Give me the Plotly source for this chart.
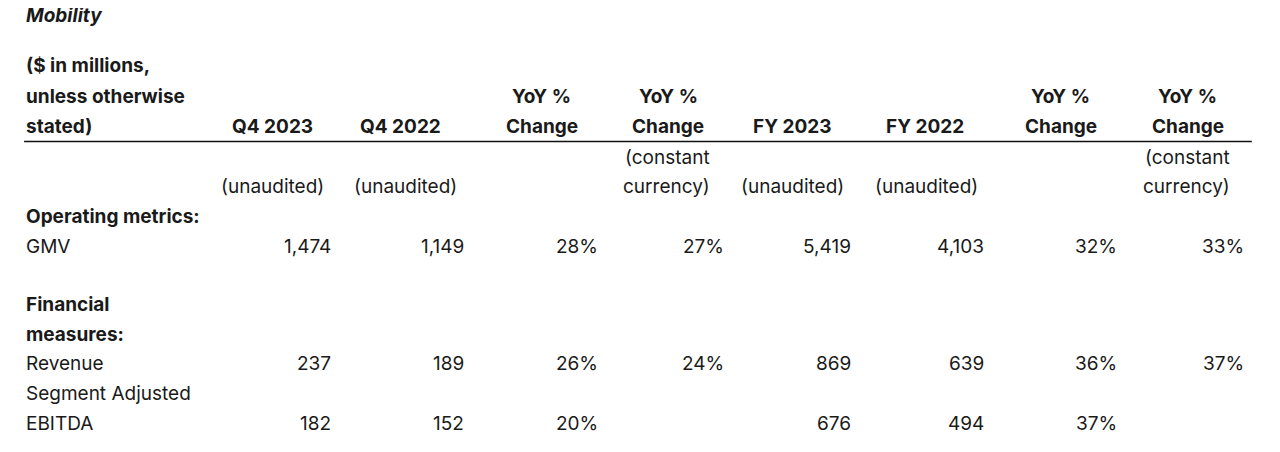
import plotly.graph_objects as go

title = "Mobility"
label_header = ["($ in millions,", "unless otherwise", "stated)"]
col_headers = ["Q4 2023", "Q4 2022", "YoY %<br>Change", "YoY %<br>Change",
               "FY 2023", "FY 2022", "YoY %<br>Change", "YoY %<br>Change"]
sub_headers = ["(unaudited)", "(unaudited)", "", "(constant<br>currency)",
               "(unaudited)", "(unaudited)", "", "(constant<br>currency)"]

gmv = ["1,474", "1,149", "28%", "27%", "5,419", "4,103", "32%", "33%"]
revenue = ["237", "189", "26%", "24%", "869", "639", "36%", "37%"]
ebitda = ["182", "152", "20%", "", "676", "494", "37%", ""]

# layout (pixel coordinates)
col_right = [332, 465, 598, 724, 850, 982, 1115, 1241]
col_center = [272, 400, 540, 666, 790, 922, 1057, 1183]
sub_right = [326, 458, 0, 710, 843, 976, 0, 1227]
FONT = "Inter, Roboto, sans-serif"
INK = "#1a1a1a"

fig = go.Figure()
ann = []


def txt(x, y, s, anchor="left", bold=False, italic=False, yanchor="middle"):
    if bold:
        s = "<b>" + s + "</b>"
    if italic:
        s = "<i>" + s + "</i>"
    ann.append(dict(x=x, y=y, text=s, xanchor=anchor, yanchor=yanchor, showarrow=False,
                    font=dict(family=FONT, size=19, color=INK), align=anchor if anchor != "center" else "center"))


txt(25, 15, title, bold=True, italic=True)
for i, s in enumerate(label_header):
    txt(25, 65 + i * 30.5, s, bold=True)

for i, h in enumerate(col_headers):
    if "<br>" in h:
        a, b = h.split("<br>")
        txt(col_center[i], 96, a, anchor="center", bold=True)
        txt(col_center[i], 126, b, anchor="center", bold=True)
    else:
        txt(col_center[i], 126, h, anchor="center", bold=True)

for i, s in enumerate(sub_headers):
    if not s:
        continue
    if "<br>" in s:
        a, b = s.split("<br>")
        txt(sub_right[i], 157, a, anchor="right")
        txt(sub_right[i], 186, b, anchor="right")
    else:
        txt(sub_right[i], 186, s, anchor="right")

txt(25, 216, "Operating metrics:", bold=True)
txt(25, 246, "GMV")
txt(25, 304, "Financial", bold=True)
txt(25, 334, "measures:", bold=True)
txt(25, 363, "Revenue")
txt(25, 393, "Segment Adjusted")
txt(25, 423, "EBITDA")

for row, y in [(gmv, 246), (revenue, 363), (ebitda, 423)]:
    for i, v in enumerate(row):
        if v:
            txt(col_right[i], y, v, anchor="right")

fig.add_shape(type="line", x0=25, x1=1247, y0=141, y1=141, line=dict(color="#111", width=1.5))

fig.update_layout(
    width=1280, height=452, margin=dict(l=0, r=0, t=0, b=0),
    paper_bgcolor="white", plot_bgcolor="white",
    xaxis=dict(range=[9, 1283], visible=False, fixedrange=True),
    yaxis=dict(range=[459.5, 7.5], visible=False, fixedrange=True),
    annotations=ann, showlegend=False,
)
fig.write_html("out.html")
